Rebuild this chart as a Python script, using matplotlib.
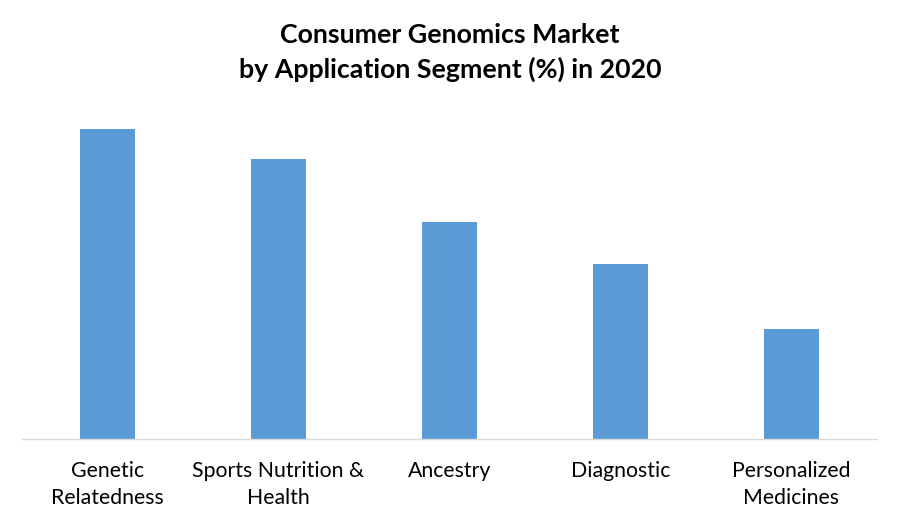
import matplotlib
matplotlib.use('Agg')
import matplotlib.pyplot as plt

segments = ['Genetic\nRelatedness', 'Sports Nutrition &\nHealth', 'Ancestry',
            'Diagnostic', 'Personalized\nMedicines']
shares = [28.4, 25.6, 19.9, 16.0, 10.1]

plt.rcParams['font.family'] = ['Lato', 'DejaVu Sans']

fig = plt.figure(figsize=(9, 5.25), dpi=100)
ax = fig.add_axes([0.0244, 0.1638, 0.950, 0.624])

x = range(len(segments))
ax.bar(x, shares, width=0.32, color='#5b9bd5', zorder=2)

ax.set_xlim(-0.5, len(segments) - 0.5)
ax.set_ylim(0, 30)
ax.set_xticks(list(x))
ax.set_xticklabels(segments, fontsize=15.3, color='black', linespacing=1.42)
ax.tick_params(axis='x', length=0, pad=16)
ax.set_yticks([])

for side in ['top', 'right', 'left']:
    ax.spines[side].set_visible(False)
ax.spines['bottom'].set_color('#d9d9d9')
ax.spines['bottom'].set_linewidth(1)

fig.text(0.5, 0.9, 'Consumer Genomics Market\nby Application Segment (%) in 2020',
         ha='center', va='center', fontsize=19.3, fontweight='bold', linespacing=1.42)

fig.savefig('out.png', dpi=100)
